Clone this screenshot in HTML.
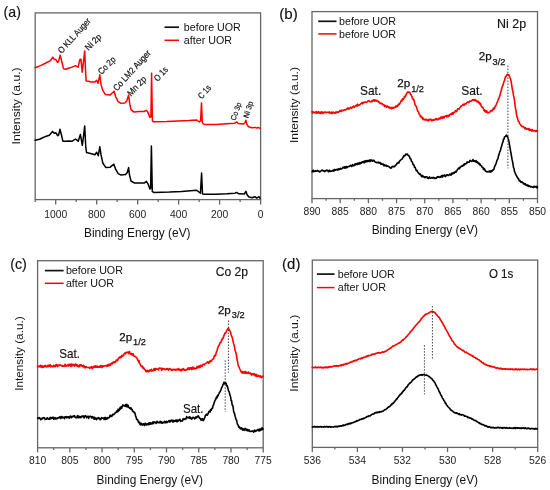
<!DOCTYPE html>
<html><head><meta charset="utf-8"><style>
html,body{margin:0;padding:0;background:#fff;}
svg{display:block;font-family:"Liberation Sans", sans-serif;will-change:transform;filter:blur(0.3px);}
</style></head><body>
<svg width="550" height="490" viewBox="0 0 550 490">
<rect width="550" height="490" fill="#fff"/>
<rect x="35.2" y="12.9" width="225.4" height="186.7" fill="none" stroke="#666" stroke-width="1.3"/>
<line x1="55.69" y1="199.6" x2="55.69" y2="204.6" stroke="#666" stroke-width="1.3"/>
<line x1="96.67" y1="199.6" x2="96.67" y2="204.6" stroke="#666" stroke-width="1.3"/>
<line x1="137.65" y1="199.6" x2="137.65" y2="204.6" stroke="#666" stroke-width="1.3"/>
<line x1="178.64" y1="199.6" x2="178.64" y2="204.6" stroke="#666" stroke-width="1.3"/>
<line x1="219.62" y1="199.6" x2="219.62" y2="204.6" stroke="#666" stroke-width="1.3"/>
<line x1="260.6" y1="199.6" x2="260.6" y2="204.6" stroke="#666" stroke-width="1.3"/>
<line x1="35.2" y1="199.6" x2="35.2" y2="202.1" stroke="#666" stroke-width="1.3"/>
<line x1="76.18" y1="199.6" x2="76.18" y2="202.1" stroke="#666" stroke-width="1.3"/>
<line x1="117.16" y1="199.6" x2="117.16" y2="202.1" stroke="#666" stroke-width="1.3"/>
<line x1="158.15" y1="199.6" x2="158.15" y2="202.1" stroke="#666" stroke-width="1.3"/>
<line x1="199.13" y1="199.6" x2="199.13" y2="202.1" stroke="#666" stroke-width="1.3"/>
<line x1="240.11" y1="199.6" x2="240.11" y2="202.1" stroke="#666" stroke-width="1.3"/>
<text x="55.69" y="217.6" font-size="10.3" text-anchor="middle" fill="#222" >1000</text>
<text x="96.67" y="217.6" font-size="10.3" text-anchor="middle" fill="#222" >800</text>
<text x="137.65" y="217.6" font-size="10.3" text-anchor="middle" fill="#222" >600</text>
<text x="178.64" y="217.6" font-size="10.3" text-anchor="middle" fill="#222" >400</text>
<text x="219.62" y="217.6" font-size="10.3" text-anchor="middle" fill="#222" >200</text>
<text x="260.6" y="217.6" font-size="10.3" text-anchor="middle" fill="#222" >0</text>
<text x="84" y="236.6" font-size="12.5" text-anchor="start" fill="#111" textLength="106.6" lengthAdjust="spacingAndGlyphs" >Binding Energy (eV)</text>
<text x="0" y="0" font-size="11.8" text-anchor="middle" fill="#111" transform="translate(19.5,105.9) rotate(-90)" textLength="77" lengthAdjust="spacingAndGlyphs">Intensity (a.u.)</text>
<text x="3.6" y="16.6" font-size="15" text-anchor="start" fill="#111" textLength="17.3" lengthAdjust="spacingAndGlyphs" stroke="#111" stroke-width="0.15">(a)</text>
<line x1="164.5" y1="27.2" x2="179" y2="27.2" stroke="#111" stroke-width="1.7"/>
<line x1="164.5" y1="40.3" x2="179" y2="40.3" stroke="#f00" stroke-width="1.5"/>
<text x="183.8" y="30.9" font-size="10.2" text-anchor="start" fill="#111" textLength="57" lengthAdjust="spacingAndGlyphs" >before UOR</text>
<text x="183.8" y="44" font-size="10.2" text-anchor="start" fill="#111" textLength="48.2" lengthAdjust="spacingAndGlyphs" >after UOR</text>
<path d="M35.1,67.8 L40.5,65.6 L44.9,63.5 L50.4,60.7 L52.8,57.2 L54.2,59.4 L55.8,59.4 L57.5,62.4 L58.5,61.6 L60.2,55.3 L61.8,61.8 L63.5,68.6 L65.6,69.2 L70,67.8 L72.2,67.1 L75.5,65.6 L78.2,67.1 L79.8,59.6 L80.9,59.1 L82.2,72.2 L83.6,60.7 L84.7,50.9 L85.5,69.5 L86.1,80.9 L88.5,81.2 L90.7,82 L94.9,82.1 L96.7,80.3 L98,83.4 L99.8,74.8 L101,84.6 L102.9,90.7 L105.3,94.4 L110.2,95 L112.7,92.5 L114.1,91.3 L115.7,96.8 L118.2,101.7 L120.6,103.2 L124.9,103 L126.7,101.1 L128.6,95 L129.8,104.2 L131,109.7 L134.1,112.1 L139,111.5 L143.9,111.5 L146.3,110.3 L147.7,111.9 L149.9,117.4 L150.9,116.8 L151.6,73.2 L152.4,120.6 L153.2,121.7 L166.8,121.5 L177.7,120.9 L188.6,120.6 L196.8,120.1 L199.5,122 L200.6,120.6 L201.5,102.9 L202.3,122.3 L203.4,123.9 L205,124.6 L215.9,124.4 L226.8,123.8 L234.5,123.3 L236.6,121.9 L238.3,123.5 L243.2,124.1 L244.8,123 L245.9,120.3 L247,124.6 L248.6,126.8 L251.9,127.7 L255.2,127.4 L256.3,127.9 L258.5,127.4 L260.1,128.5" fill="none" stroke="#f00" stroke-width="1.5" stroke-linejoin="round" stroke-linecap="round" />
<path d="M35.1,140.3 L39.5,139.2 L44.9,136.8 L49.3,135.2 L52.5,131.4 L54.2,133.3 L55.8,132.8 L57.8,135.7 L58.5,135.2 L60,129.2 L61.5,135.2 L62.9,141.2 L65.6,141.2 L68.9,140.9 L72.2,141.2 L75.5,139 L78.2,141.2 L80.4,134.4 L82.3,145.3 L83.6,135.7 L84.7,125.9 L85.8,147.7 L86.6,152.6 L89.6,153.2 L94.9,154.7 L96.7,152.2 L98.3,155.7 L99.8,146.7 L101,154.7 L102.9,163.3 L105.9,167.6 L110.2,167.2 L113.9,164.2 L115.7,169.4 L118.2,173.7 L120.6,174.9 L125.5,174.5 L127.3,172.4 L128.6,167.6 L129.4,174.3 L131,181 L134.7,183.1 L139,182.9 L144.5,182.9 L146.4,181.4 L148.1,184.1 L149.9,189 L150.6,188.4 L151.4,146.1 L152.3,191.4 L153.6,192.4 L169.5,192 L181.7,191.4 L196.4,190.2 L198.9,192 L200.4,193.3 L201.6,173.1 L202.5,193.9 L205,194.3 L215.9,194.2 L226.8,193.8 L235,193.2 L236.6,192.4 L238.8,193.8 L244.3,194 L245.9,191.3 L247,194.5 L248.6,196.7 L251.9,197.8 L255.2,196.7 L256.8,198.1 L259,196.7 L260.1,198.4" fill="none" stroke="#000" stroke-width="1.5" stroke-linejoin="round" stroke-linecap="round" />
<text x="0" y="0" font-size="9" fill="#111" stroke="#111" stroke-width="0.2" transform="translate(61.8,54) rotate(-48)" textLength="44" lengthAdjust="spacingAndGlyphs">O KLL Auger</text>
<text x="0" y="0" font-size="9" fill="#111" stroke="#111" stroke-width="0.2" transform="translate(88.5,51) rotate(-45)" textLength="19.2" lengthAdjust="spacingAndGlyphs">Ni 2p</text>
<text x="0" y="0" font-size="9" fill="#111" stroke="#111" stroke-width="0.2" transform="translate(101.5,75) rotate(-45)" textLength="20.9" lengthAdjust="spacingAndGlyphs">Co 2p</text>
<text x="0" y="0" font-size="9" fill="#111" stroke="#111" stroke-width="0.2" transform="translate(116.9,91.6) rotate(-48)" textLength="51.4" lengthAdjust="spacingAndGlyphs">Co LM2 Auger</text>
<text x="0" y="0" font-size="9" fill="#111" stroke="#111" stroke-width="0.2" transform="translate(130.9,96.8) rotate(-47)" textLength="23.7" lengthAdjust="spacingAndGlyphs">Mn 2p</text>
<text x="0" y="0" font-size="9" fill="#111" stroke="#111" stroke-width="0.2" transform="translate(157.7,81.9) rotate(-48)" textLength="16.1" lengthAdjust="spacingAndGlyphs">O 1s</text>
<text x="0" y="0" font-size="9" fill="#111" stroke="#111" stroke-width="0.2" transform="translate(201.7,99.4) rotate(-48)" textLength="14.9" lengthAdjust="spacingAndGlyphs">C 1s</text>
<text x="0" y="0" font-size="7.7" fill="#111" stroke="#111" stroke-width="0.2" transform="translate(235.3,121.1) rotate(-70)" textLength="18.6" lengthAdjust="spacingAndGlyphs">Co 3p</text>
<text x="0" y="0" font-size="7.7" fill="#111" stroke="#111" stroke-width="0.2" transform="translate(248.2,118.6) rotate(-73)" textLength="17.1" lengthAdjust="spacingAndGlyphs">Ni 3p</text>
<rect x="312" y="11.6" width="225.5" height="187" fill="none" stroke="#666" stroke-width="1.3"/>
<line x1="537.5" y1="198.6" x2="537.5" y2="203.2" stroke="#666" stroke-width="1.3"/>
<line x1="509.31" y1="198.6" x2="509.31" y2="203.2" stroke="#666" stroke-width="1.3"/>
<line x1="481.12" y1="198.6" x2="481.12" y2="203.2" stroke="#666" stroke-width="1.3"/>
<line x1="452.94" y1="198.6" x2="452.94" y2="203.2" stroke="#666" stroke-width="1.3"/>
<line x1="424.75" y1="198.6" x2="424.75" y2="203.2" stroke="#666" stroke-width="1.3"/>
<line x1="396.56" y1="198.6" x2="396.56" y2="203.2" stroke="#666" stroke-width="1.3"/>
<line x1="368.38" y1="198.6" x2="368.38" y2="203.2" stroke="#666" stroke-width="1.3"/>
<line x1="340.19" y1="198.6" x2="340.19" y2="203.2" stroke="#666" stroke-width="1.3"/>
<line x1="312" y1="198.6" x2="312" y2="203.2" stroke="#666" stroke-width="1.3"/>
<line x1="523.41" y1="198.6" x2="523.41" y2="200.8" stroke="#666" stroke-width="1.3"/>
<line x1="495.22" y1="198.6" x2="495.22" y2="200.8" stroke="#666" stroke-width="1.3"/>
<line x1="467.03" y1="198.6" x2="467.03" y2="200.8" stroke="#666" stroke-width="1.3"/>
<line x1="438.84" y1="198.6" x2="438.84" y2="200.8" stroke="#666" stroke-width="1.3"/>
<line x1="410.66" y1="198.6" x2="410.66" y2="200.8" stroke="#666" stroke-width="1.3"/>
<line x1="382.47" y1="198.6" x2="382.47" y2="200.8" stroke="#666" stroke-width="1.3"/>
<line x1="354.28" y1="198.6" x2="354.28" y2="200.8" stroke="#666" stroke-width="1.3"/>
<line x1="326.09" y1="198.6" x2="326.09" y2="200.8" stroke="#666" stroke-width="1.3"/>
<text x="537.5" y="214.8" font-size="10.3" text-anchor="middle" fill="#222" >850</text>
<text x="509.31" y="214.8" font-size="10.3" text-anchor="middle" fill="#222" >855</text>
<text x="481.12" y="214.8" font-size="10.3" text-anchor="middle" fill="#222" >860</text>
<text x="452.94" y="214.8" font-size="10.3" text-anchor="middle" fill="#222" >865</text>
<text x="424.75" y="214.8" font-size="10.3" text-anchor="middle" fill="#222" >870</text>
<text x="396.56" y="214.8" font-size="10.3" text-anchor="middle" fill="#222" >875</text>
<text x="368.38" y="214.8" font-size="10.3" text-anchor="middle" fill="#222" >880</text>
<text x="340.19" y="214.8" font-size="10.3" text-anchor="middle" fill="#222" >885</text>
<text x="312" y="214.8" font-size="10.3" text-anchor="middle" fill="#222" >890</text>
<text x="371.7" y="234.1" font-size="12.5" text-anchor="start" fill="#111" textLength="106.4" lengthAdjust="spacingAndGlyphs" >Binding Energy (eV)</text>
<text x="0" y="0" font-size="11.8" text-anchor="middle" fill="#111" transform="translate(297.5,105.1) rotate(-90)" textLength="76" lengthAdjust="spacingAndGlyphs">Intensity (a.u.)</text>
<text x="279.2" y="18.6" font-size="15" text-anchor="start" fill="#111" textLength="18.5" lengthAdjust="spacingAndGlyphs" stroke="#111" stroke-width="0.15">(b)</text>
<line x1="318.2" y1="21.3" x2="336.5" y2="21.3" stroke="#111" stroke-width="1.7"/>
<line x1="318.2" y1="33.9" x2="336.5" y2="33.9" stroke="#f00" stroke-width="1.5"/>
<text x="339" y="25" font-size="10.2" text-anchor="start" fill="#111" textLength="57" lengthAdjust="spacingAndGlyphs" >before UOR</text>
<text x="339" y="37.6" font-size="10.2" text-anchor="start" fill="#111" textLength="57" lengthAdjust="spacingAndGlyphs" >before UOR</text>
<text x="497.1" y="27.8" font-size="12.2" text-anchor="start" fill="#111" textLength="29" lengthAdjust="spacingAndGlyphs" stroke="#111" stroke-width="0.15">Ni 2p</text>
<text x="360" y="95" font-size="12.2" text-anchor="start" fill="#111" textLength="21.2" lengthAdjust="spacingAndGlyphs" stroke="#111" stroke-width="0.15">Sat.</text>
<text x="461.3" y="95.1" font-size="12.2" text-anchor="start" fill="#111" textLength="21.4" lengthAdjust="spacingAndGlyphs" stroke="#111" stroke-width="0.15">Sat.</text>
<text x="397.3" y="87.3" font-size="11.6" fill="#111" stroke="#111" stroke-width="0.25">2p<tspan font-size="9.2" dx="1" dy="4.5">1/2</tspan></text>
<text x="478.7" y="60.4" font-size="11.6" fill="#111" stroke="#111" stroke-width="0.25">2p<tspan font-size="9.2" dx="1" dy="4.5">3/2</tspan></text>
<path d="M312,111.64 L312.5,112.94 L313,112.81 L313.5,111.92 L314,112.37 L314.5,112.31 L315,112.7 L315.5,112.97 L316,111.75 L316.5,111.65 L317,113.13 L317.5,112.43 L318,113.04 L318.5,111.69 L319,112.51 L319.5,113.03 L320,112.16 L320.5,113.46 L321,113.4 L321.5,111.84 L322,111.84 L322.5,112.77 L323,113.49 L323.5,112.49 L324,112.19 L324.5,112.56 L325,111.85 L325.5,112.2 L326,112.59 L326.5,112.69 L327,112.22 L327.5,112.22 L328,112.19 L328.5,112.63 L329,112.32 L329.5,111.84 L330,113.31 L330.5,112.8 L331,112.96 L331.5,112.13 L332,113.59 L332.5,113.33 L333,111.98 L333.5,112.32 L334,112.97 L334.5,112.88 L335,113.21 L335.5,112.2 L336,112.84 L336.5,112.45 L337,111.68 L337.5,112.08 L338,112.49 L338.5,112.3 L339,111.55 L339.5,111.56 L340,110.43 L340.5,110.66 L341,111.52 L341.5,110.69 L342,110.11 L342.5,110.64 L343,110.78 L343.5,110.58 L344,109.89 L344.5,109.85 L345,109.81 L345.5,110.12 L346,109.49 L346.5,109.08 L347,109.08 L347.5,108.06 L348,107.9 L348.5,108.9 L349,109.22 L349.5,108.32 L350,107.77 L350.5,107.18 L351,107.58 L351.5,108.26 L352,107.69 L352.5,107.08 L353,107.47 L353.5,106.15 L354,106.48 L354.5,107.08 L355,106.21 L355.5,105.79 L356,105.25 L356.5,105.55 L357,106.08 L357.5,104.16 L358,105.36 L358.5,105.22 L359,105.13 L359.5,104.67 L360,104.59 L360.5,103.88 L361,103.76 L361.5,103.33 L362,102.49 L362.5,103.78 L363,103.07 L363.5,102.25 L364,102.65 L364.5,102.47 L365,102.11 L365.5,101.96 L366,102.18 L366.5,102.2 L367,102.06 L367.5,101.67 L368,100.78 L368.5,101.04 L369,100.84 L369.5,101.47 L370,101.88 L370.5,101.68 L371,101.6 L371.5,101.56 L372,100.49 L372.5,101.48 L373,101.13 L373.5,100.03 L374,99.87 L374.5,99.85 L375,101.17 L375.5,100.25 L376,100.05 L376.5,101.13 L377,100.85 L377.5,100.64 L378,101.13 L378.5,102.13 L379,101.82 L379.5,102.32 L380,103.39 L380.5,103.21 L381,103.26 L381.5,103.84 L382,103.34 L382.5,104.3 L383,104.67 L383.5,104.56 L384,104.71 L384.5,106.42 L385,105.98 L385.5,105.69 L386,106.63 L386.5,107.21 L387,105.96 L387.5,106.12 L388,106.51 L388.5,107.68 L389,106.8 L389.5,107.9 L390,107.95 L390.5,107.79 L391,107.28 L391.5,108.69 L392,108.41 L392.5,107.92 L393,107.4 L393.5,108.12 L394,107.54 L394.5,107.69 L395,106.99 L395.5,107.27 L396,105.91 L396.5,105.98 L397,106.79 L397.5,106.2 L398,104.72 L398.5,105.2 L399,103.67 L399.5,104.23 L400,103.28 L400.5,102.07 L401,101.14 L401.5,100.06 L402,100.97 L402.5,98.81 L403,99.58 L403.5,99.2 L404,97.87 L404.5,96.43 L405,96.88 L405.5,96.24 L406,94.92 L406.5,93.8 L407,92.9 L407.5,92.33 L408,91.76 L408.5,92.52 L409,92.26 L409.5,92.23 L410,92.65 L410.5,94.4 L411,94.58 L411.5,95.88 L412,96.53 L412.5,98.48 L413,99.52 L413.5,99.05 L414,100.59 L414.5,102.08 L415,104.57 L415.5,105.5 L416,105.98 L416.5,106.97 L417,108.93 L417.5,110.34 L418,111.63 L418.5,111.68 L419,113.73 L419.5,114.41 L420,115.01 L420.5,116.79 L421,116.22 L421.5,117.75 L422,117.14 L422.5,117.72 L423,119.41 L423.5,118.42 L424,119.62 L424.5,119.5 L425,120.07 L425.5,119.34 L426,119.4 L426.5,119.4 L427,120.5 L427.5,120.08 L428,120.75 L428.5,120.66 L429,119.33 L429.5,120.08 L430,119.29 L430.5,119.17 L431,119.23 L431.5,120.65 L432,120.49 L432.5,120.52 L433,119.6 L433.5,120.03 L434,120.26 L434.5,119.46 L435,119.71 L435.5,118.99 L436,118.63 L436.5,118.85 L437,119.86 L437.5,119.14 L438,119.66 L438.5,118.69 L439,118.22 L439.5,119 L440,118.92 L440.5,117.31 L441,118.35 L441.5,117.15 L442,117.05 L442.5,118.28 L443,116.61 L443.5,116.82 L444,118.02 L444.5,116.84 L445,116.14 L445.5,116.07 L446,116.04 L446.5,116.77 L447,115.44 L447.5,116.71 L448,115.56 L448.5,116.43 L449,116.11 L449.5,114.79 L450,114.49 L450.5,114.65 L451,113.72 L451.5,114.45 L452,113.08 L452.5,112.74 L453,114.18 L453.5,112.62 L454,112.8 L454.5,112.16 L455,111.52 L455.5,110.66 L456,111.77 L456.5,111.43 L457,110.99 L457.5,108.99 L458,108.72 L458.5,108.99 L459,109.19 L459.5,107.96 L460,107.78 L460.5,107.3 L461,106.15 L461.5,106.26 L462,105.45 L462.5,104.97 L463,104.33 L463.5,104.37 L464,105.33 L464.5,104.07 L465,104.14 L465.5,103.83 L466,104.08 L466.5,102.81 L467,102.39 L467.5,102.16 L468,101.89 L468.5,102.61 L469,102.46 L469.5,101.18 L470,101.04 L470.5,101.23 L471,101.13 L471.5,101.01 L472,100.25 L472.5,99.74 L473,100.05 L473.5,99.68 L474,100.51 L474.5,99.63 L475,99.67 L475.5,100.77 L476,100.3 L476.5,101.41 L477,101.13 L477.5,102.1 L478,101.17 L478.5,102.19 L479,103.16 L479.5,102.33 L480,104.41 L480.5,103.61 L481,105.41 L481.5,106.59 L482,107.15 L482.5,107.11 L483,107.57 L483.5,109.08 L484,110.5 L484.5,109.93 L485,111.47 L485.5,110.5 L486,112.2 L486.5,110.84 L487,111.5 L487.5,112.62 L488,112.45 L488.5,112.62 L489,112.47 L489.5,112.24 L490,112.03 L490.5,110.95 L491,111.18 L491.5,110.38 L492,110.99 L492.5,110.43 L493,109.14 L493.5,108.19 L494,109.13 L494.5,108.12 L495,106.86 L495.5,105.99 L496,105.63 L496.5,103.93 L497,102.8 L497.5,101.6 L498,100.31 L498.5,98.69 L499,98.51 L499.5,96.64 L500,95.32 L500.5,92.71 L501,91.48 L501.5,89.3 L502,87.49 L502.5,85.99 L503,85.35 L503.5,83.02 L504,81.62 L504.5,80.63 L505,78.55 L505.5,76.78 L506,76.47 L506.5,75.39 L507,74.9 L507.5,74.13 L508,74.6 L508.5,75.04 L509,74.83 L509.5,76.3 L510,77.58 L510.5,78.74 L511,81.07 L511.5,83.75 L512,87.11 L512.5,90.07 L513,91.94 L513.5,95.62 L514,97.46 L514.5,100.63 L515,104.71 L515.5,108.66 L516,110.51 L516.5,114.43 L517,116.99 L517.5,117.81 L518,120.04 L518.5,121.62 L519,121.83 L519.5,123.32 L520,124.12 L520.5,124.49 L521,125.51 L521.5,126.09 L522,126.7 L522.5,126.52 L523,126.33 L523.5,126.91 L524,127.22 L524.5,128.16 L525,128.75 L525.5,127.68 L526,128.97 L526.5,129.17 L527,128.62 L527.5,129.03 L528,128.51 L528.5,129.65 L529,128.54 L529.5,130.39 L530,130.21 L530.5,130.01 L531,129.47 L531.5,130.74 L532,130.91 L532.5,129.52 L533,130.74 L533.5,130.93 L534,130.68 L534.5,130.82 L535,130.42 L535.5,131.36 L536,131.51 L536.5,130.52 L537,131.36 L537.5,130.78" fill="none" stroke="#f00" stroke-width="1.6" stroke-linejoin="round" stroke-linecap="round" />
<path d="M312,171.82 L312.5,171.81 L313,170.2 L313.5,170.25 L314,171.6 L314.5,171.42 L315,171.31 L315.5,170.65 L316,171.19 L316.5,171.19 L317,171.15 L317.5,170.39 L318,170.88 L318.5,170.81 L319,171.4 L319.5,171.89 L320,171.81 L320.5,171.08 L321,170.9 L321.5,170.58 L322,170.16 L322.5,170.15 L323,170.94 L323.5,170.67 L324,170.78 L324.5,171.7 L325,171.03 L325.5,171.09 L326,170.49 L326.5,170.09 L327,170.62 L327.5,170.25 L328,170.9 L328.5,171.75 L329,171.13 L329.5,170.2 L330,171.43 L330.5,171.2 L331,171.03 L331.5,171.28 L332,170.94 L332.5,170.91 L333,170.04 L333.5,171.07 L334,170.94 L334.5,169.39 L335,170.34 L335.5,170.16 L336,169.58 L336.5,169.58 L337,169.38 L337.5,170.04 L338,169.14 L338.5,169.6 L339,168.61 L339.5,169.43 L340,169.32 L340.5,168.4 L341,168.46 L341.5,168.96 L342,168.48 L342.5,167.93 L343,167.32 L343.5,167.39 L344,167.94 L344.5,166.85 L345,168.06 L345.5,166.79 L346,167.82 L346.5,166.61 L347,167.65 L347.5,167.07 L348,166.58 L348.5,166.48 L349,166.59 L349.5,166.35 L350,165.72 L350.5,165.41 L351,165.82 L351.5,166.45 L352,165.76 L352.5,164.64 L353,165.84 L353.5,165.53 L354,165.72 L354.5,164.29 L355,165.14 L355.5,163.75 L356,164.67 L356.5,163.83 L357,163.59 L357.5,164.6 L358,163.06 L358.5,163.66 L359,164.1 L359.5,162.85 L360,162.64 L360.5,163.7 L361,162.73 L361.5,163.13 L362,161.76 L362.5,162.23 L363,161.75 L363.5,162.52 L364,161.32 L364.5,162.75 L365,160.94 L365.5,162.07 L366,160.66 L366.5,160.95 L367,161.83 L367.5,160.53 L368,160.47 L368.5,161.29 L369,160.66 L369.5,159.98 L370,161.63 L370.5,160.09 L371,159.87 L371.5,160.43 L372,160.95 L372.5,161.25 L373,160.2 L373.5,160.71 L374,160.29 L374.5,161.18 L375,161.9 L375.5,162.02 L376,162.48 L376.5,162.38 L377,162.75 L377.5,162.64 L378,162.39 L378.5,162.13 L379,163.11 L379.5,162.69 L380,162.52 L380.5,163.36 L381,164.35 L381.5,163.23 L382,164.28 L382.5,164.17 L383,164.61 L383.5,164.16 L384,165.84 L384.5,164.8 L385,165.66 L385.5,165.59 L386,165.14 L386.5,166.38 L387,165.88 L387.5,165.97 L388,166.13 L388.5,166.53 L389,166.52 L389.5,167.54 L390,167.31 L390.5,168.13 L391,167.99 L391.5,168.01 L392,166.53 L392.5,166.78 L393,166.27 L393.5,166.69 L394,166.52 L394.5,166.59 L395,166.14 L395.5,165 L396,164.95 L396.5,164.75 L397,163.39 L397.5,163 L398,163.21 L398.5,162.18 L399,162.78 L399.5,161.39 L400,160.61 L400.5,160.22 L401,159.77 L401.5,159.2 L402,159.15 L402.5,158.33 L403,157.26 L403.5,157.04 L404,155.48 L404.5,156.02 L405,155.55 L405.5,154.75 L406,154.08 L406.5,154.3 L407,154.65 L407.5,154.04 L408,155.16 L408.5,155.9 L409,155.91 L409.5,156.44 L410,158.44 L410.5,158.41 L411,159.55 L411.5,161.24 L412,161.74 L412.5,162.27 L413,164.65 L413.5,164.66 L414,165.09 L414.5,167.27 L415,167.11 L415.5,168.34 L416,170.14 L416.5,170.64 L417,170.23 L417.5,171.74 L418,172.34 L418.5,173.1 L419,173.17 L419.5,174.36 L420,173.89 L420.5,174.69 L421,175.22 L421.5,176.57 L422,175.32 L422.5,176.8 L423,176.01 L423.5,176.89 L424,176.74 L424.5,177.01 L425,177.65 L425.5,177.11 L426,176.71 L426.5,176.79 L427,176.79 L427.5,178.23 L428,177.9 L428.5,178.52 L429,178.07 L429.5,176.89 L430,178.05 L430.5,178.28 L431,178.19 L431.5,177.79 L432,177.54 L432.5,177.72 L433,178.34 L433.5,177.38 L434,177.82 L434.5,177.7 L435,178.5 L435.5,178.17 L436,178.33 L436.5,178.07 L437,177.01 L437.5,176.79 L438,177.15 L438.5,176.62 L439,176.81 L439.5,177.15 L440,177.46 L440.5,176.75 L441,177.05 L441.5,175.64 L442,176 L442.5,177.05 L443,175.43 L443.5,175.83 L444,175.11 L444.5,175.06 L445,176.44 L445.5,176.53 L446,175.83 L446.5,174.81 L447,175.01 L447.5,174.8 L448,175.48 L448.5,175.38 L449,174.82 L449.5,174.83 L450,173.94 L450.5,174.54 L451,175.09 L451.5,174.54 L452,173.12 L452.5,173.63 L453,173.72 L453.5,172.6 L454,173.41 L454.5,172.28 L455,172.33 L455.5,171.39 L456,172.04 L456.5,171.22 L457,170.4 L457.5,169.18 L458,169.25 L458.5,168.05 L459,168.61 L459.5,168.66 L460,166.95 L460.5,167.1 L461,166.62 L461.5,166.06 L462,166.21 L462.5,166.24 L463,165.46 L463.5,164.71 L464,165.28 L464.5,163.83 L465,164.27 L465.5,163.8 L466,163.68 L466.5,163.54 L467,162.12 L467.5,162.55 L468,161.89 L468.5,162.11 L469,162.42 L469.5,161.58 L470,160.26 L470.5,160.89 L471,161.17 L471.5,161.35 L472,160.82 L472.5,161.04 L473,159.55 L473.5,161.2 L474,160.86 L474.5,160.76 L475,161.48 L475.5,161.7 L476,160.59 L476.5,162.22 L477,162.51 L477.5,161.89 L478,163.29 L478.5,163.42 L479,163.13 L479.5,164.68 L480,163.99 L480.5,165.38 L481,165.63 L481.5,165.89 L482,167.06 L482.5,167.48 L483,167.6 L483.5,169.54 L484,168.47 L484.5,168.85 L485,170.18 L485.5,171.21 L486,171.23 L486.5,171.71 L487,171.47 L487.5,172.01 L488,171.53 L488.5,171.47 L489,171.9 L489.5,171 L490,171.01 L490.5,172.08 L491,170.83 L491.5,171.59 L492,171.29 L492.5,170.15 L493,170.09 L493.5,169.64 L494,169 L494.5,166.78 L495,165.76 L495.5,164.95 L496,163.76 L496.5,162.03 L497,160.01 L497.5,159.44 L498,158.58 L498.5,155.9 L499,154.62 L499.5,152.79 L500,151.34 L500.5,150.44 L501,147.7 L501.5,146.54 L502,144.5 L502.5,142.9 L503,141.98 L503.5,139.01 L504,139.08 L504.5,137.03 L505,136.68 L505.5,136.24 L506,135.61 L506.5,135.2 L507,136.53 L507.5,136.14 L508,138.45 L508.5,139.67 L509,141.85 L509.5,144.84 L510,147.69 L510.5,150.61 L511,153.26 L511.5,156.08 L512,159.14 L512.5,161.36 L513,164 L513.5,167.66 L514,168.37 L514.5,171.62 L515,172.49 L515.5,173.86 L516,174.97 L516.5,175.56 L517,177.11 L517.5,177.33 L518,178.48 L518.5,178.78 L519,180.38 L519.5,180.93 L520,180.57 L520.5,181.46 L521,182.49 L521.5,181.85 L522,181.84 L522.5,182.45 L523,182.68 L523.5,183.85 L524,183.56 L524.5,183.76 L525,184.77 L525.5,183.96 L526,185.2 L526.5,185.08 L527,184.86 L527.5,185.81 L528,185.12 L528.5,186.24 L529,186.47 L529.5,185.83 L530,186.29 L530.5,186.86 L531,186.59 L531.5,186.7 L532,186.99 L532.5,187.19 L533,186.94 L533.5,187.42 L534,186.25 L534.5,186.92 L535,187.08 L535.5,186.61 L536,186.74 L536.5,186.42 L537,187.92 L537.5,186.94" fill="none" stroke="#000" stroke-width="1.6" stroke-linejoin="round" stroke-linecap="round" />
<line x1="507.9" y1="65.5" x2="507.9" y2="168.4" stroke="#444" stroke-width="1" stroke-dasharray="1.5,1.5"/>
<rect x="37.6" y="260.7" width="225.6" height="187.1" fill="none" stroke="#666" stroke-width="1.3"/>
<line x1="263.2" y1="447.8" x2="263.2" y2="452.4" stroke="#666" stroke-width="1.3"/>
<line x1="230.97" y1="447.8" x2="230.97" y2="452.4" stroke="#666" stroke-width="1.3"/>
<line x1="198.74" y1="447.8" x2="198.74" y2="452.4" stroke="#666" stroke-width="1.3"/>
<line x1="166.51" y1="447.8" x2="166.51" y2="452.4" stroke="#666" stroke-width="1.3"/>
<line x1="134.29" y1="447.8" x2="134.29" y2="452.4" stroke="#666" stroke-width="1.3"/>
<line x1="102.06" y1="447.8" x2="102.06" y2="452.4" stroke="#666" stroke-width="1.3"/>
<line x1="69.83" y1="447.8" x2="69.83" y2="452.4" stroke="#666" stroke-width="1.3"/>
<line x1="37.6" y1="447.8" x2="37.6" y2="452.4" stroke="#666" stroke-width="1.3"/>
<line x1="247.09" y1="447.8" x2="247.09" y2="450" stroke="#666" stroke-width="1.3"/>
<line x1="214.86" y1="447.8" x2="214.86" y2="450" stroke="#666" stroke-width="1.3"/>
<line x1="182.63" y1="447.8" x2="182.63" y2="450" stroke="#666" stroke-width="1.3"/>
<line x1="150.4" y1="447.8" x2="150.4" y2="450" stroke="#666" stroke-width="1.3"/>
<line x1="118.17" y1="447.8" x2="118.17" y2="450" stroke="#666" stroke-width="1.3"/>
<line x1="85.94" y1="447.8" x2="85.94" y2="450" stroke="#666" stroke-width="1.3"/>
<line x1="53.71" y1="447.8" x2="53.71" y2="450" stroke="#666" stroke-width="1.3"/>
<text x="263.2" y="464.2" font-size="10.3" text-anchor="middle" fill="#222" >775</text>
<text x="230.97" y="464.2" font-size="10.3" text-anchor="middle" fill="#222" >780</text>
<text x="198.74" y="464.2" font-size="10.3" text-anchor="middle" fill="#222" >785</text>
<text x="166.51" y="464.2" font-size="10.3" text-anchor="middle" fill="#222" >790</text>
<text x="134.29" y="464.2" font-size="10.3" text-anchor="middle" fill="#222" >795</text>
<text x="102.06" y="464.2" font-size="10.3" text-anchor="middle" fill="#222" >800</text>
<text x="69.83" y="464.2" font-size="10.3" text-anchor="middle" fill="#222" >805</text>
<text x="37.6" y="464.2" font-size="10.3" text-anchor="middle" fill="#222" >810</text>
<text x="96.6" y="483.7" font-size="12.5" text-anchor="start" fill="#111" textLength="106.4" lengthAdjust="spacingAndGlyphs" >Binding Energy (eV)</text>
<text x="0" y="0" font-size="11.8" text-anchor="middle" fill="#111" transform="translate(22.9,353.6) rotate(-90)" textLength="74.5" lengthAdjust="spacingAndGlyphs">Intensity (a.u.)</text>
<text x="10.2" y="269.4" font-size="15" text-anchor="start" fill="#111" textLength="16.7" lengthAdjust="spacingAndGlyphs" stroke="#111" stroke-width="0.15">(c)</text>
<line x1="44.9" y1="270.6" x2="63.6" y2="270.6" stroke="#111" stroke-width="1.7"/>
<line x1="44.9" y1="283.3" x2="63.6" y2="283.3" stroke="#f00" stroke-width="1.5"/>
<text x="65.9" y="274.3" font-size="10.2" text-anchor="start" fill="#111" textLength="57" lengthAdjust="spacingAndGlyphs" >before UOR</text>
<text x="65.9" y="287" font-size="10.2" text-anchor="start" fill="#111" textLength="48.2" lengthAdjust="spacingAndGlyphs" >after UOR</text>
<text x="215.7" y="276.2" font-size="12.2" text-anchor="start" fill="#111" textLength="32.3" lengthAdjust="spacingAndGlyphs" stroke="#111" stroke-width="0.15">Co 2p</text>
<text x="59.2" y="357.9" font-size="12.2" text-anchor="start" fill="#111" textLength="20.8" lengthAdjust="spacingAndGlyphs" stroke="#111" stroke-width="0.15">Sat.</text>
<text x="183" y="412.6" font-size="12.2" text-anchor="start" fill="#111" textLength="20.5" lengthAdjust="spacingAndGlyphs" stroke="#111" stroke-width="0.15">Sat.</text>
<text x="119.2" y="340.6" font-size="11.6" fill="#111" stroke="#111" stroke-width="0.25">2p<tspan font-size="9.2" dx="1" dy="4.5">1/2</tspan></text>
<text x="217.9" y="313.5" font-size="11.6" fill="#111" stroke="#111" stroke-width="0.25">2p<tspan font-size="9.2" dx="1" dy="4.5">3/2</tspan></text>
<path d="M37.6,365.97 L38.1,366.68 L38.6,366.23 L39.1,366.76 L39.6,366.79 L40.1,365.41 L40.6,365.26 L41.1,367.21 L41.6,365.79 L42.1,365.71 L42.6,367.5 L43.1,366.21 L43.6,367.06 L44.1,366.17 L44.6,366.53 L45.1,365.33 L45.6,366.47 L46.1,367 L46.6,366.14 L47.1,366.64 L47.6,366.44 L48.1,364.95 L48.6,366.59 L49.1,366.16 L49.6,365.43 L50.1,364.76 L50.6,366.73 L51.1,365.76 L51.6,366.32 L52.1,366.67 L52.6,366.24 L53.1,366.71 L53.6,365.42 L54.1,366.36 L54.6,365.48 L55.1,366.63 L55.6,366.47 L56.1,364.57 L56.6,364.64 L57.1,364.81 L57.6,366.58 L58.1,365.28 L58.6,365.72 L59.1,364.91 L59.6,365.38 L60.1,365.06 L60.6,364.95 L61.1,365.49 L61.6,365.47 L62.1,366.21 L62.6,365.66 L63.1,366.23 L63.6,366.04 L64.1,366.34 L64.6,365.56 L65.1,364.33 L65.6,365.99 L66.1,366.23 L66.6,366.08 L67.1,365.27 L67.6,365.61 L68.1,364.41 L68.6,365.9 L69.1,365.28 L69.6,364.59 L70.1,364.06 L70.6,365.96 L71.1,366.29 L71.6,364.14 L72.1,365.86 L72.6,364.93 L73.1,364.32 L73.6,364.68 L74.1,365.84 L74.6,366.11 L75.1,364.15 L75.6,365.54 L76.1,364.2 L76.6,365.85 L77.1,364.96 L77.6,366.32 L78.1,366.61 L78.6,365.51 L79.1,366.75 L79.6,365.17 L80.1,364.69 L80.6,366.03 L81.1,364.77 L81.6,365.27 L82.1,365.88 L82.6,366.48 L83.1,365.5 L83.6,365.34 L84.1,367.43 L84.6,366.21 L85.1,367.86 L85.6,367.82 L86.1,366.66 L86.6,366.95 L87.1,367.17 L87.6,367.53 L88.1,367.46 L88.6,367.41 L89.1,367.58 L89.6,368.36 L90.1,367.31 L90.6,367.13 L91.1,367.81 L91.6,366.64 L92.1,366.78 L92.6,368.39 L93.1,367.27 L93.6,367.31 L94.1,365.99 L94.6,366.93 L95.1,367.3 L95.6,365.92 L96.1,367.31 L96.6,367.31 L97.1,365.9 L97.6,367.21 L98.1,366.78 L98.6,367.24 L99.1,366.4 L99.6,367.2 L100.1,367.22 L100.6,365.44 L101.1,365.48 L101.6,366.9 L102.1,367.55 L102.6,365.79 L103.1,366.23 L103.6,366.51 L104.1,365.8 L104.6,365.85 L105.1,365.66 L105.6,365.72 L106.1,366.18 L106.6,365.37 L107.1,365.45 L107.6,366.27 L108.1,364.34 L108.6,365.48 L109.1,365.7 L109.6,364.48 L110.1,364.05 L110.6,365.2 L111.1,363.58 L111.6,363.18 L112.1,363.48 L112.6,363.8 L113.1,362.05 L113.6,362.24 L114.1,361.93 L114.6,362.78 L115.1,361.48 L115.6,362.12 L116.1,360.11 L116.6,360.12 L117.1,360.47 L117.6,360.61 L118.1,359.13 L118.6,358.14 L119.1,357.45 L119.6,357.98 L120.1,356.73 L120.6,357.78 L121.1,357.44 L121.6,355.46 L122.1,355.31 L122.6,356.22 L123.1,355.44 L123.6,355.43 L124.1,353.93 L124.6,353.02 L125.1,353.05 L125.6,353.92 L126.1,352.39 L126.6,352.35 L127.1,352.37 L127.6,352.31 L128.1,352.29 L128.6,353.56 L129.1,351.8 L129.6,351.55 L130.1,353.94 L130.6,353.97 L131.1,354.44 L131.6,353.37 L132.1,354.9 L132.6,355.17 L133.1,353.85 L133.6,355.53 L134.1,356.23 L134.6,356.35 L135.1,356.58 L135.6,356.64 L136.1,357.41 L136.6,357.8 L137.1,358.1 L137.6,360.04 L138.1,360.01 L138.6,361.94 L139.1,360.82 L139.6,363.63 L140.1,363.92 L140.6,365.28 L141.1,366.01 L141.6,366.79 L142.1,366.74 L142.6,366.06 L143.1,368.4 L143.6,367.58 L144.1,368.42 L144.6,369.8 L145.1,369.94 L145.6,370.07 L146.1,371.66 L146.6,371.11 L147.1,370.6 L147.6,370.4 L148.1,371.83 L148.6,370.84 L149.1,371.47 L149.6,370.32 L150.1,369.82 L150.6,370.5 L151.1,371.04 L151.6,369.36 L152.1,370.73 L152.6,370.94 L153.1,370.59 L153.6,370.56 L154.1,368.53 L154.6,369.96 L155.1,370.45 L155.6,368.44 L156.1,368.92 L156.6,368.86 L157.1,369.43 L157.6,369.14 L158.1,369.22 L158.6,369.92 L159.1,368.03 L159.6,368.14 L160.1,368.31 L160.6,368.3 L161.1,368.17 L161.6,370.35 L162.1,370.08 L162.6,368.25 L163.1,369.27 L163.6,368.84 L164.1,368.87 L164.6,368.98 L165.1,369.72 L165.6,369.6 L166.1,369.09 L166.6,368.71 L167.1,369.07 L167.6,368.6 L168.1,369.66 L168.6,370.07 L169.1,369.28 L169.6,368.57 L170.1,368.82 L170.6,369.29 L171.1,369.85 L171.6,370.28 L172.1,369.31 L172.6,370.32 L173.1,369.9 L173.6,369.44 L174.1,369.29 L174.6,369.59 L175.1,370.09 L175.6,369.41 L176.1,370.07 L176.6,369.51 L177.1,368.99 L177.6,369.69 L178.1,370.07 L178.6,368.57 L179.1,369.42 L179.6,369.42 L180.1,370.51 L180.6,370.65 L181.1,369.3 L181.6,370.55 L182.1,370.29 L182.6,369.01 L183.1,369.48 L183.6,368.63 L184.1,370.26 L184.6,369.86 L185.1,370.36 L185.6,370.09 L186.1,369.74 L186.6,369.84 L187.1,369.38 L187.6,368.21 L188.1,369.3 L188.6,367.83 L189.1,368.09 L189.6,369.53 L190.1,367.7 L190.6,367.73 L191.1,367.66 L191.6,369.45 L192.1,367.68 L192.6,367.21 L193.1,369.08 L193.6,367.26 L194.1,368.9 L194.6,368.38 L195.1,368.67 L195.6,368.84 L196.1,367.82 L196.6,368.23 L197.1,366.27 L197.6,367.89 L198.1,367.13 L198.6,367.47 L199.1,365.84 L199.6,367.22 L200.1,367.48 L200.6,365.19 L201.1,365.62 L201.6,365.97 L202.1,366.37 L202.6,364.72 L203.1,364.31 L203.6,364.22 L204.1,364.83 L204.6,364.89 L205.1,363.76 L205.6,363.42 L206.1,363.22 L206.6,362.83 L207.1,362.75 L207.6,361.71 L208.1,362.48 L208.6,363.39 L209.1,361.8 L209.6,362.34 L210.1,360.64 L210.6,361.58 L211.1,361.35 L211.6,360.71 L212.1,359.84 L212.6,359.22 L213.1,359.01 L213.6,358.95 L214.1,356.39 L214.6,355.41 L215.1,355.99 L215.6,355.27 L216.1,353.07 L216.6,351.58 L217.1,350.9 L217.6,348.26 L218.1,347.13 L218.6,345.71 L219.1,345.48 L219.6,343.74 L220.1,342.5 L220.6,342.58 L221.1,342.22 L221.6,339.68 L222.1,339.72 L222.6,338.09 L223.1,338.23 L223.6,336.69 L224.1,335.06 L224.6,334.11 L225.1,332.83 L225.6,333.11 L226.1,332 L226.6,330.48 L227.1,329.92 L227.6,328.99 L228.1,329.55 L228.6,327.98 L229.1,330.43 L229.6,330.01 L230.1,331.39 L230.6,332.39 L231.1,334.71 L231.6,336.17 L232.1,337.17 L232.6,338.8 L233.1,341.34 L233.6,343.73 L234.1,344.77 L234.6,347.73 L235.1,350.51 L235.6,351.73 L236.1,353.66 L236.6,356.17 L237.1,359.75 L237.6,361.89 L238.1,364.63 L238.6,366.46 L239.1,366.95 L239.6,368.45 L240.1,369.75 L240.6,370.15 L241.1,371.81 L241.6,372.52 L242.1,372.88 L242.6,371.53 L243.1,373.14 L243.6,371.92 L244.1,372.26 L244.6,373.05 L245.1,371.56 L245.6,371.63 L246.1,373.48 L246.6,372.27 L247.1,372.53 L247.6,373.17 L248.1,373.52 L248.6,372.03 L249.1,372.94 L249.6,373.32 L250.1,373.57 L250.6,373.05 L251.1,374.09 L251.6,375.11 L252.1,373.9 L252.6,374.41 L253.1,373.52 L253.6,374.03 L254.1,375.1 L254.6,373.89 L255.1,375.88 L255.6,376.05 L256.1,374.22 L256.6,376.37 L257.1,375.13 L257.6,376.21 L258.1,376.29 L258.6,375.31 L259.1,376.34 L259.6,376.41 L260.1,376.89 L260.6,375.71 L261.1,377.01 L261.6,377.62 L262.1,377.05 L262.6,376.84 L263.1,375.95" fill="none" stroke="#f00" stroke-width="1.6" stroke-linejoin="round" stroke-linecap="round" />
<path d="M37.6,418.17 L38.1,417.83 L38.6,418.51 L39.1,417.92 L39.6,417.69 L40.1,418.47 L40.6,419.69 L41.1,419.4 L41.6,419.29 L42.1,417.97 L42.6,418.71 L43.1,418.07 L43.6,417.8 L44.1,417.62 L44.6,417.86 L45.1,419.56 L45.6,419.3 L46.1,419.22 L46.6,419.19 L47.1,417.71 L47.6,417.97 L48.1,418.7 L48.6,418.93 L49.1,419.2 L49.6,419.24 L50.1,417.3 L50.6,418.52 L51.1,418.65 L51.6,418.22 L52.1,417.41 L52.6,418.09 L53.1,417.13 L53.6,419.13 L54.1,418.94 L54.6,418.14 L55.1,417.52 L55.6,418.95 L56.1,418.11 L56.6,418.83 L57.1,418.72 L57.6,417.88 L58.1,417.62 L58.6,418.04 L59.1,417.61 L59.6,416.93 L60.1,417.25 L60.6,418.44 L61.1,416.57 L61.6,416.55 L62.1,417.92 L62.6,417.06 L63.1,417.64 L63.6,417.46 L64.1,417.13 L64.6,418.67 L65.1,416.72 L65.6,417.21 L66.1,416.68 L66.6,417.68 L67.1,416.8 L67.6,416.96 L68.1,417.87 L68.6,416.81 L69.1,417.35 L69.6,418.14 L70.1,416.17 L70.6,416.03 L71.1,416.39 L71.6,417.64 L72.1,417.23 L72.6,416.28 L73.1,416.47 L73.6,416.06 L74.1,416.7 L74.6,415.66 L75.1,417.2 L75.6,417.64 L76.1,417.76 L76.6,417.21 L77.1,417.73 L77.6,415.46 L78.1,416.1 L78.6,417.72 L79.1,417.26 L79.6,416.39 L80.1,417.68 L80.6,416.92 L81.1,417.41 L81.6,416.17 L82.1,415.95 L82.6,416.59 L83.1,415.88 L83.6,416.5 L84.1,417.93 L84.6,416.45 L85.1,415.72 L85.6,415.84 L86.1,416.18 L86.6,417.7 L87.1,416.74 L87.6,416.61 L88.1,416.19 L88.6,418.37 L89.1,417.08 L89.6,416.61 L90.1,416.31 L90.6,416.36 L91.1,416.71 L91.6,418.01 L92.1,416.82 L92.6,416.65 L93.1,417.82 L93.6,417.33 L94.1,419.22 L94.6,417.21 L95.1,418.28 L95.6,418.95 L96.1,418.16 L96.6,419.63 L97.1,418.48 L97.6,417.98 L98.1,418.44 L98.6,417.6 L99.1,418.56 L99.6,418.17 L100.1,419.73 L100.6,419.59 L101.1,418.79 L101.6,417.66 L102.1,418.18 L102.6,418.13 L103.1,418.01 L103.6,418.02 L104.1,419.49 L104.6,417.67 L105.1,417.36 L105.6,419.35 L106.1,418.35 L106.6,419.22 L107.1,417.63 L107.6,418.63 L108.1,417.81 L108.6,417.9 L109.1,417.53 L109.6,416.65 L110.1,415.39 L110.6,415.36 L111.1,416.63 L111.6,416.36 L112.1,416.08 L112.6,414.32 L113.1,414.73 L113.6,414.72 L114.1,413.97 L114.6,413.99 L115.1,412.9 L115.6,412.78 L116.1,412.42 L116.6,410.97 L117.1,412.1 L117.6,411.73 L118.1,409.17 L118.6,410.88 L119.1,410.43 L119.6,409.31 L120.1,407.41 L120.6,409.03 L121.1,406.72 L121.6,408.25 L122.1,407.05 L122.6,405.15 L123.1,405.03 L123.6,405.86 L124.1,405.51 L124.6,405.89 L125.1,406.35 L125.6,404.72 L126.1,404.3 L126.6,406.65 L127.1,404.64 L127.6,406.93 L128.1,405.35 L128.6,407.31 L129.1,407.57 L129.6,408.17 L130.1,407.79 L130.6,409.01 L131.1,407.87 L131.6,409.52 L132.1,409.27 L132.6,411.24 L133.1,411.64 L133.6,411.67 L134.1,412.62 L134.6,412.34 L135.1,413.48 L135.6,416.08 L136.1,417.12 L136.6,419.29 L137.1,419.82 L137.6,419.63 L138.1,420.95 L138.6,422.64 L139.1,422.7 L139.6,422.04 L140.1,424.5 L140.6,424.85 L141.1,423.34 L141.6,424.58 L142.1,424.21 L142.6,425.18 L143.1,424.01 L143.6,423.8 L144.1,424.36 L144.6,425.46 L145.1,423.32 L145.6,423.3 L146.1,424.45 L146.6,425.01 L147.1,424.05 L147.6,423.78 L148.1,424.72 L148.6,424.45 L149.1,422.66 L149.6,424.51 L150.1,422.76 L150.6,422.9 L151.1,424.07 L151.6,422.96 L152.1,423.74 L152.6,422.12 L153.1,423.72 L153.6,421.97 L154.1,421.83 L154.6,422.61 L155.1,422.19 L155.6,422.64 L156.1,423.48 L156.6,422.99 L157.1,421.28 L157.6,421.99 L158.1,422.54 L158.6,422.38 L159.1,422.91 L159.6,422.32 L160.1,421.31 L160.6,421.68 L161.1,423.08 L161.6,421.86 L162.1,422.8 L162.6,423.27 L163.1,422.36 L163.6,422.43 L164.1,422.21 L164.6,421.45 L165.1,422.83 L165.6,421.7 L166.1,422.71 L166.6,421.2 L167.1,422.5 L167.6,422.25 L168.1,421.77 L168.6,421.31 L169.1,420.53 L169.6,421.99 L170.1,420.95 L170.6,421.62 L171.1,420.3 L171.6,420.14 L172.1,420.25 L172.6,421.81 L173.1,420.27 L173.6,421.99 L174.1,420.7 L174.6,421.17 L175.1,420.61 L175.6,421.23 L176.1,419.95 L176.6,420.66 L177.1,421.91 L177.6,420.05 L178.1,421.15 L178.6,420.31 L179.1,420.18 L179.6,419.44 L180.1,419.34 L180.6,421.47 L181.1,421.07 L181.6,420.87 L182.1,420.7 L182.6,420.83 L183.1,418.67 L183.6,419.42 L184.1,418.91 L184.6,418.8 L185.1,419.38 L185.6,418.66 L186.1,418.89 L186.6,416.61 L187.1,417.68 L187.6,417.58 L188.1,417.64 L188.6,417.28 L189.1,417.85 L189.6,416.75 L190.1,418.5 L190.6,417.51 L191.1,418.19 L191.6,419.04 L192.1,418.58 L192.6,417.59 L193.1,417.33 L193.6,417.47 L194.1,418.07 L194.6,418.83 L195.1,418.47 L195.6,417.14 L196.1,417.02 L196.6,417.92 L197.1,416.56 L197.6,416.81 L198.1,415.83 L198.6,416.35 L199.1,417.5 L199.6,418.28 L200.1,418.58 L200.6,418.47 L201.1,420.33 L201.6,419.89 L202.1,418.96 L202.6,418.71 L203.1,420.61 L203.6,420.16 L204.1,419.37 L204.6,417.88 L205.1,416.41 L205.6,415.11 L206.1,414.8 L206.6,414.1 L207.1,415.24 L207.6,414.63 L208.1,413.84 L208.6,411.82 L209.1,411.51 L209.6,411.11 L210.1,412.08 L210.6,409.55 L211.1,410.35 L211.6,409.3 L212.1,408.1 L212.6,408.11 L213.1,405.39 L213.6,404.9 L214.1,402.86 L214.6,401.53 L215.1,400.18 L215.6,399.68 L216.1,398.05 L216.6,396.79 L217.1,397.96 L217.6,395.24 L218.1,395.66 L218.6,394.19 L219.1,393.27 L219.6,392.1 L220.1,391.83 L220.6,390.68 L221.1,389.33 L221.6,387.86 L222.1,386.96 L222.6,385.8 L223.1,384.31 L223.6,383.39 L224.1,382.18 L224.6,383.88 L225.1,383.24 L225.6,382.65 L226.1,383.48 L226.6,385.95 L227.1,385.44 L227.6,386.93 L228.1,389.04 L228.6,391.09 L229.1,391.6 L229.6,393.64 L230.1,395.69 L230.6,396.75 L231.1,400.76 L231.6,400.63 L232.1,404.87 L232.6,405.01 L233.1,407.15 L233.6,410.94 L234.1,412.97 L234.6,413.56 L235.1,416.21 L235.6,417.73 L236.1,419.85 L236.6,420.03 L237.1,422.95 L237.6,424.63 L238.1,425.09 L238.6,426.62 L239.1,427.52 L239.6,426.88 L240.1,428.52 L240.6,428.9 L241.1,428.65 L241.6,427.76 L242.1,429.19 L242.6,430.05 L243.1,428.71 L243.6,429.62 L244.1,430.29 L244.6,429.63 L245.1,428.33 L245.6,429.82 L246.1,429 L246.6,430.54 L247.1,430.17 L247.6,429.43 L248.1,430.95 L248.6,430.42 L249.1,429.84 L249.6,431.14 L250.1,431.39 L250.6,431.49 L251.1,431.57 L251.6,431.11 L252.1,431.29 L252.6,431.13 L253.1,431 L253.6,432.14 L254.1,430.64 L254.6,429.99 L255.1,431.49 L255.6,430.92 L256.1,430.96 L256.6,430.98 L257.1,430.02 L257.6,429.76 L258.1,429.29 L258.6,430.83 L259.1,430.95 L259.6,430.26 L260.1,428.68 L260.6,430.55 L261.1,430 L261.6,429.05 L262.1,427.65 L262.6,429.51 L263.1,428.83" fill="none" stroke="#000" stroke-width="1.6" stroke-linejoin="round" stroke-linecap="round" />
<line x1="228.4" y1="320.5" x2="228.4" y2="372.6" stroke="#444" stroke-width="1" stroke-dasharray="1.5,1.5"/>
<line x1="225.2" y1="360.3" x2="225.2" y2="411.8" stroke="#444" stroke-width="1" stroke-dasharray="1.5,1.5"/>
<rect x="312.3" y="260.1" width="225.4" height="187.3" fill="none" stroke="#666" stroke-width="1.3"/>
<line x1="537.7" y1="447.4" x2="537.7" y2="452" stroke="#666" stroke-width="1.3"/>
<line x1="492.62" y1="447.4" x2="492.62" y2="452" stroke="#666" stroke-width="1.3"/>
<line x1="447.54" y1="447.4" x2="447.54" y2="452" stroke="#666" stroke-width="1.3"/>
<line x1="402.46" y1="447.4" x2="402.46" y2="452" stroke="#666" stroke-width="1.3"/>
<line x1="357.38" y1="447.4" x2="357.38" y2="452" stroke="#666" stroke-width="1.3"/>
<line x1="312.3" y1="447.4" x2="312.3" y2="452" stroke="#666" stroke-width="1.3"/>
<line x1="515.16" y1="447.4" x2="515.16" y2="449.6" stroke="#666" stroke-width="1.3"/>
<line x1="470.08" y1="447.4" x2="470.08" y2="449.6" stroke="#666" stroke-width="1.3"/>
<line x1="425" y1="447.4" x2="425" y2="449.6" stroke="#666" stroke-width="1.3"/>
<line x1="379.92" y1="447.4" x2="379.92" y2="449.6" stroke="#666" stroke-width="1.3"/>
<line x1="334.84" y1="447.4" x2="334.84" y2="449.6" stroke="#666" stroke-width="1.3"/>
<text x="537.7" y="463.6" font-size="10.3" text-anchor="middle" fill="#222" >526</text>
<text x="492.62" y="463.6" font-size="10.3" text-anchor="middle" fill="#222" >528</text>
<text x="447.54" y="463.6" font-size="10.3" text-anchor="middle" fill="#222" >530</text>
<text x="402.46" y="463.6" font-size="10.3" text-anchor="middle" fill="#222" >532</text>
<text x="357.38" y="463.6" font-size="10.3" text-anchor="middle" fill="#222" >534</text>
<text x="312.3" y="463.6" font-size="10.3" text-anchor="middle" fill="#222" >536</text>
<text x="371.6" y="483.5" font-size="12.5" text-anchor="start" fill="#111" textLength="106.5" lengthAdjust="spacingAndGlyphs" >Binding Energy (eV)</text>
<text x="0" y="0" font-size="11.8" text-anchor="middle" fill="#111" transform="translate(298,353.2) rotate(-90)" textLength="77" lengthAdjust="spacingAndGlyphs">Intensity (a.u.)</text>
<text x="282.1" y="269.1" font-size="15" text-anchor="start" fill="#111" textLength="18.3" lengthAdjust="spacingAndGlyphs" stroke="#111" stroke-width="0.15">(d)</text>
<line x1="316.9" y1="274.1" x2="334.5" y2="274.1" stroke="#111" stroke-width="1.7"/>
<line x1="316.9" y1="287.6" x2="334.5" y2="287.6" stroke="#f00" stroke-width="1.5"/>
<text x="337.7" y="277.8" font-size="10.2" text-anchor="start" fill="#111" textLength="57" lengthAdjust="spacingAndGlyphs" >before UOR</text>
<text x="337.7" y="291.3" font-size="10.2" text-anchor="start" fill="#111" textLength="48.2" lengthAdjust="spacingAndGlyphs" >after UOR</text>
<text x="488.9" y="277.9" font-size="12.2" text-anchor="start" fill="#111" textLength="24.4" lengthAdjust="spacingAndGlyphs" stroke="#111" stroke-width="0.15">O 1s</text>
<path d="M312.3,367.31 L312.8,367.44 L313.3,367.51 L313.8,367.66 L314.3,367.5 L314.8,367.69 L315.3,366.91 L315.8,367.33 L316.3,367.78 L316.8,367.54 L317.3,367.79 L317.8,367.11 L318.3,367.45 L318.8,367.27 L319.3,367.56 L319.8,367.6 L320.3,367.12 L320.8,367.31 L321.3,367.38 L321.8,367.96 L322.3,367.83 L322.8,367.29 L323.3,367.87 L323.8,367.26 L324.3,367.67 L324.8,367.19 L325.3,367.03 L325.8,367.76 L326.3,367.1 L326.8,367.04 L327.3,367.65 L327.8,367.47 L328.3,366.87 L328.8,367.39 L329.3,366.92 L329.8,366.96 L330.3,366.46 L330.8,367.04 L331.3,366.74 L331.8,366.92 L332.3,366.79 L332.8,366.2 L333.3,366.19 L333.8,365.96 L334.3,365.89 L334.8,365.77 L335.3,365.93 L335.8,366.15 L336.3,365.56 L336.8,366.12 L337.3,365.76 L337.8,365.67 L338.3,366.07 L338.8,365.7 L339.3,365.48 L339.8,365.56 L340.3,365.68 L340.8,365.01 L341.3,365.74 L341.8,364.78 L342.3,365.32 L342.8,365.29 L343.3,364.41 L343.8,364.96 L344.3,364.44 L344.8,364.47 L345.3,363.79 L345.8,363.66 L346.3,363.6 L346.8,364.12 L347.3,363.25 L347.8,363.56 L348.3,363.53 L348.8,363.35 L349.3,362.61 L349.8,362.42 L350.3,362.38 L350.8,362.41 L351.3,361.61 L351.8,361.99 L352.3,361.85 L352.8,361.72 L353.3,360.79 L353.8,361.43 L354.3,360.48 L354.8,360.53 L355.3,360.59 L355.8,360.69 L356.3,359.98 L356.8,360.33 L357.3,359.81 L357.8,359.42 L358.3,359.24 L358.8,358.94 L359.3,358.67 L359.8,358.55 L360.3,358.86 L360.8,358.95 L361.3,358.02 L361.8,357.74 L362.3,358.41 L362.8,357.83 L363.3,357.53 L363.8,357.21 L364.3,357.35 L364.8,357.39 L365.3,356.88 L365.8,356.67 L366.3,356.17 L366.8,356.76 L367.3,355.79 L367.8,356.03 L368.3,356.16 L368.8,355.35 L369.3,355.71 L369.8,355.73 L370.3,355.27 L370.8,355.24 L371.3,354.46 L371.8,354.59 L372.3,354.16 L372.8,354.63 L373.3,353.97 L373.8,353.96 L374.3,354.3 L374.8,354.02 L375.3,353.98 L375.8,353.38 L376.3,353.29 L376.8,353.39 L377.3,353.07 L377.8,352.81 L378.3,352.83 L378.8,352.52 L379.3,352.65 L379.8,353.13 L380.3,353.03 L380.8,352.65 L381.3,352.45 L381.8,352.21 L382.3,351.88 L382.8,351.93 L383.3,352.26 L383.8,352.19 L384.3,351.57 L384.8,351.77 L385.3,351.55 L385.8,351.24 L386.3,350.95 L386.8,350.75 L387.3,350.08 L387.8,350.06 L388.3,349.34 L388.8,349.17 L389.3,349.06 L389.8,348.63 L390.3,347.91 L390.8,348.13 L391.3,347.5 L391.8,347.09 L392.3,346.24 L392.8,346.4 L393.3,345.83 L393.8,345.92 L394.3,345.45 L394.8,345.5 L395.3,345.08 L395.8,344.95 L396.3,344.28 L396.8,344.28 L397.3,344.09 L397.8,343.88 L398.3,343.15 L398.8,343.28 L399.3,342.97 L399.8,342.46 L400.3,342.36 L400.8,341.97 L401.3,341.2 L401.8,340.82 L402.3,340.1 L402.8,340.3 L403.3,339.97 L403.8,339.12 L404.3,338.88 L404.8,338.45 L405.3,337.99 L405.8,337 L406.3,337.05 L406.8,336.35 L407.3,335.89 L407.8,335.11 L408.3,334.73 L408.8,334.28 L409.3,333.57 L409.8,333.05 L410.3,331.82 L410.8,331.34 L411.3,330.99 L411.8,330.58 L412.3,329.6 L412.8,329.43 L413.3,328.8 L413.8,327.68 L414.3,327.48 L414.8,326.67 L415.3,325.93 L415.8,325.41 L416.3,324.98 L416.8,324.27 L417.3,323.68 L417.8,322.94 L418.3,322.73 L418.8,322.05 L419.3,321.66 L419.8,321.01 L420.3,320.05 L420.8,319.99 L421.3,318.52 L421.8,318.25 L422.3,317.52 L422.8,317.06 L423.3,316.25 L423.8,316.41 L424.3,315.56 L424.8,314.84 L425.3,314.99 L425.8,314.17 L426.3,314.25 L426.8,313.76 L427.3,313.69 L427.8,313.74 L428.3,313.34 L428.8,312.7 L429.3,312.79 L429.8,312.39 L430.3,311.92 L430.8,311.52 L431.3,311.77 L431.8,311.63 L432.3,311.92 L432.8,311.93 L433.3,311.76 L433.8,311.8 L434.3,312.68 L434.8,312.34 L435.3,312.96 L435.8,313.91 L436.3,314.49 L436.8,314.59 L437.3,315.57 L437.8,316.37 L438.3,316.5 L438.8,317.18 L439.3,317.64 L439.8,318.39 L440.3,319.72 L440.8,319.95 L441.3,321.27 L441.8,322.07 L442.3,322.67 L442.8,323.28 L443.3,324.86 L443.8,325.36 L444.3,326.24 L444.8,327.1 L445.3,328.63 L445.8,329.11 L446.3,329.84 L446.8,330.93 L447.3,331.55 L447.8,332.94 L448.3,333.72 L448.8,334.51 L449.3,335.87 L449.8,336.8 L450.3,336.94 L450.8,338.24 L451.3,338.81 L451.8,340.2 L452.3,340.83 L452.8,341.1 L453.3,341.86 L453.8,342.47 L454.3,343.9 L454.8,343.93 L455.3,344.84 L455.8,345.32 L456.3,346.02 L456.8,346.5 L457.3,347.09 L457.8,346.94 L458.3,347.91 L458.8,347.85 L459.3,348.39 L459.8,348.53 L460.3,348.81 L460.8,349.32 L461.3,349.58 L461.8,349.8 L462.3,350.46 L462.8,350.62 L463.3,350.42 L463.8,350.89 L464.3,351.35 L464.8,352.04 L465.3,352.28 L465.8,352.24 L466.3,352.03 L466.8,352.98 L467.3,352.94 L467.8,353.34 L468.3,353.74 L468.8,353.96 L469.3,354.12 L469.8,354.8 L470.3,354.62 L470.8,354.92 L471.3,355.64 L471.8,355.35 L472.3,355.74 L472.8,356.52 L473.3,356.13 L473.8,357.13 L474.3,357.31 L474.8,357.38 L475.3,357.56 L475.8,358.31 L476.3,358.74 L476.8,358.36 L477.3,358.98 L477.8,359.36 L478.3,359.65 L478.8,359.84 L479.3,360.02 L479.8,360.76 L480.3,361.31 L480.8,360.99 L481.3,361.49 L481.8,362.37 L482.3,362.68 L482.8,362.9 L483.3,362.65 L483.8,363.59 L484.3,364.12 L484.8,364.43 L485.3,364.43 L485.8,364.09 L486.3,365.04 L486.8,364.71 L487.3,365.31 L487.8,365.79 L488.3,365.77 L488.8,365.43 L489.3,365.75 L489.8,366.48 L490.3,365.95 L490.8,366.52 L491.3,366.49 L491.8,366.41 L492.3,366.96 L492.8,366.58 L493.3,366.77 L493.8,367.14 L494.3,366.99 L494.8,367.1 L495.3,367.68 L495.8,367.95 L496.3,368.18 L496.8,367.61 L497.3,367.98 L497.8,367.97 L498.3,368.31 L498.8,368.3 L499.3,368.79 L499.8,368.36 L500.3,368.14 L500.8,368.79 L501.3,368.36 L501.8,368.86 L502.3,368.8 L502.8,369.22 L503.3,368.95 L503.8,369.06 L504.3,368.78 L504.8,369.08 L505.3,368.85 L505.8,369.33 L506.3,369.15 L506.8,368.84 L507.3,368.95 L507.8,369.1 L508.3,369.45 L508.8,368.97 L509.3,369.47 L509.8,369.44 L510.3,368.94 L510.8,369.48 L511.3,368.97 L511.8,369.01 L512.3,369.44 L512.8,369.13 L513.3,369.71 L513.8,369.36 L514.3,369.23 L514.8,369.66 L515.3,368.97 L515.8,369.6 L516.3,369 L516.8,369.08 L517.3,369.81 L517.8,369.56 L518.3,369.15 L518.8,369.05 L519.3,369.83 L519.8,369.55 L520.3,369.69 L520.8,369.08 L521.3,369.51 L521.8,369.27 L522.3,369.16 L522.8,369.25 L523.3,369.5 L523.8,369.26 L524.3,369.3 L524.8,369.07 L525.3,369.7 L525.8,369.53 L526.3,369.67 L526.8,369.34 L527.3,369.72 L527.8,369.42 L528.3,369.48 L528.8,369.47 L529.3,369.62 L529.8,369.31 L530.3,369.04 L530.8,368.98 L531.3,369.13 L531.8,368.99 L532.3,369.75 L532.8,369.38 L533.3,369.63 L533.8,368.95 L534.3,369.37 L534.8,369.75 L535.3,369.51 L535.8,369.34 L536.3,369.37 L536.8,369.04 L537.3,369.09" fill="none" stroke="#f00" stroke-width="1.6" stroke-linejoin="round" stroke-linecap="round" />
<path d="M312.3,427.06 L312.8,427.09 L313.3,426.79 L313.8,426.59 L314.3,426.35 L314.8,426.95 L315.3,426.77 L315.8,427.03 L316.3,426.69 L316.8,427.04 L317.3,426.6 L317.8,427.07 L318.3,427.01 L318.8,426.72 L319.3,426.83 L319.8,426.96 L320.3,426.52 L320.8,426.85 L321.3,427.07 L321.8,426.59 L322.3,427.07 L322.8,426.97 L323.3,427.11 L323.8,426.65 L324.3,426.43 L324.8,427.07 L325.3,427.07 L325.8,426.75 L326.3,426.43 L326.8,426.53 L327.3,426.92 L327.8,426.61 L328.3,427.21 L328.8,426.88 L329.3,426.53 L329.8,426.94 L330.3,426.67 L330.8,427.19 L331.3,427.17 L331.8,426.81 L332.3,426.93 L332.8,426.97 L333.3,427.06 L333.8,427.2 L334.3,426.33 L334.8,426.61 L335.3,426.8 L335.8,426.5 L336.3,426.72 L336.8,426.23 L337.3,426.9 L337.8,426.53 L338.3,426.1 L338.8,426.52 L339.3,426.14 L339.8,425.95 L340.3,426.12 L340.8,425.72 L341.3,425.68 L341.8,426.16 L342.3,425.9 L342.8,425.16 L343.3,425.73 L343.8,424.91 L344.3,425.06 L344.8,425.44 L345.3,425.04 L345.8,424.61 L346.3,424.52 L346.8,424.38 L347.3,423.98 L347.8,424.61 L348.3,423.6 L348.8,423.77 L349.3,423.89 L349.8,423.41 L350.3,423.76 L350.8,422.93 L351.3,423.42 L351.8,423.17 L352.3,422.8 L352.8,422.82 L353.3,422.26 L353.8,422.43 L354.3,422.23 L354.8,421.8 L355.3,421.58 L355.8,421.61 L356.3,421.16 L356.8,420.69 L357.3,421.1 L357.8,420.47 L358.3,420.48 L358.8,420.56 L359.3,419.81 L359.8,419.48 L360.3,419.38 L360.8,419.6 L361.3,419.19 L361.8,418.9 L362.3,418.87 L362.8,419.09 L363.3,418.28 L363.8,418.21 L364.3,418.43 L364.8,417.97 L365.3,417.45 L365.8,417.41 L366.3,417.19 L366.8,416.65 L367.3,416.63 L367.8,416.33 L368.3,416.54 L368.8,415.86 L369.3,415.92 L369.8,415.96 L370.3,415.68 L370.8,414.94 L371.3,414.91 L371.8,414.42 L372.3,414.26 L372.8,414.11 L373.3,414.17 L373.8,414.08 L374.3,413.29 L374.8,412.83 L375.3,413.03 L375.8,412.49 L376.3,412.3 L376.8,412.83 L377.3,412.1 L377.8,412.53 L378.3,412.1 L378.8,412.51 L379.3,412.34 L379.8,411.52 L380.3,411.53 L380.8,412.09 L381.3,411.66 L381.8,411.34 L382.3,411.5 L382.8,411.35 L383.3,410.85 L383.8,410.59 L384.3,409.98 L384.8,409.92 L385.3,409.41 L385.8,409.51 L386.3,409.14 L386.8,408.36 L387.3,408.41 L387.8,407.53 L388.3,407.13 L388.8,407.19 L389.3,406.59 L389.8,406.53 L390.3,405.83 L390.8,405.43 L391.3,404.43 L391.8,404.58 L392.3,403.42 L392.8,403.41 L393.3,403.16 L393.8,402.63 L394.3,402.07 L394.8,401.1 L395.3,400.74 L395.8,400.23 L396.3,399.04 L396.8,399.16 L397.3,398.52 L397.8,397.49 L398.3,397.18 L398.8,396.28 L399.3,395.53 L399.8,395.34 L400.3,394.17 L400.8,394.25 L401.3,393.83 L401.8,392.62 L402.3,392.63 L402.8,391.27 L403.3,391.39 L403.8,390.28 L404.3,390.31 L404.8,389.25 L405.3,389.1 L405.8,387.71 L406.3,387.17 L406.8,387.22 L407.3,386.45 L407.8,385.74 L408.3,384.66 L408.8,384.17 L409.3,383.74 L409.8,382.86 L410.3,383.13 L410.8,382.37 L411.3,382.01 L411.8,381.28 L412.3,380.48 L412.8,379.78 L413.3,379.93 L413.8,378.94 L414.3,378.92 L414.8,378.45 L415.3,378.1 L415.8,377.36 L416.3,377.01 L416.8,377.08 L417.3,376.31 L417.8,376.43 L418.3,375.76 L418.8,375.57 L419.3,375.17 L419.8,375.31 L420.3,374.96 L420.8,374.69 L421.3,374.65 L421.8,374.96 L422.3,375.27 L422.8,374.83 L423.3,374.61 L423.8,374.77 L424.3,374.72 L424.8,375.05 L425.3,375.29 L425.8,375.16 L426.3,374.92 L426.8,375.18 L427.3,375.4 L427.8,375.66 L428.3,375.87 L428.8,376.69 L429.3,376.61 L429.8,377.08 L430.3,377.52 L430.8,377.89 L431.3,378.5 L431.8,378.62 L432.3,379.45 L432.8,380.33 L433.3,380.26 L433.8,381.39 L434.3,381.97 L434.8,382.53 L435.3,383.4 L435.8,384.98 L436.3,385.35 L436.8,386.85 L437.3,387.26 L437.8,388.46 L438.3,389.14 L438.8,390.61 L439.3,391.85 L439.8,392.38 L440.3,393.71 L440.8,395.04 L441.3,395.45 L441.8,396.56 L442.3,397.72 L442.8,398.77 L443.3,399.06 L443.8,400.4 L444.3,400.79 L444.8,401.62 L445.3,403.22 L445.8,403.15 L446.3,404.66 L446.8,405.21 L447.3,405.83 L447.8,406.54 L448.3,407.1 L448.8,407.37 L449.3,408.09 L449.8,408.43 L450.3,409.54 L450.8,409.97 L451.3,410.44 L451.8,410.35 L452.3,411.07 L452.8,411.11 L453.3,411.9 L453.8,412.15 L454.3,412.64 L454.8,412.64 L455.3,412.87 L455.8,413.18 L456.3,412.79 L456.8,413.43 L457.3,413.11 L457.8,413.58 L458.3,413.52 L458.8,414.42 L459.3,413.74 L459.8,414.69 L460.3,414.86 L460.8,414.55 L461.3,415.06 L461.8,414.52 L462.3,414.77 L462.8,414.83 L463.3,415.07 L463.8,415.2 L464.3,416.12 L464.8,415.64 L465.3,416.28 L465.8,416.18 L466.3,416.24 L466.8,416.69 L467.3,416.66 L467.8,417.57 L468.3,417.23 L468.8,417.62 L469.3,417.79 L469.8,418.05 L470.3,418.13 L470.8,418.15 L471.3,418.25 L471.8,419.15 L472.3,418.75 L472.8,419.21 L473.3,419.77 L473.8,419.81 L474.3,420.41 L474.8,420.56 L475.3,420.57 L475.8,420.5 L476.3,421.21 L476.8,421.4 L477.3,422.04 L477.8,422.04 L478.3,422.48 L478.8,422.87 L479.3,422.85 L479.8,423.47 L480.3,423.79 L480.8,423.39 L481.3,424.33 L481.8,424.53 L482.3,424.77 L482.8,424.55 L483.3,424.72 L483.8,424.85 L484.3,425.3 L484.8,425.96 L485.3,425.74 L485.8,425.62 L486.3,426.08 L486.8,426.06 L487.3,426.7 L487.8,426.97 L488.3,427.23 L488.8,426.59 L489.3,426.95 L489.8,426.8 L490.3,427.58 L490.8,427.58 L491.3,427.36 L491.8,427.8 L492.3,427.45 L492.8,427.72 L493.3,427.49 L493.8,427.4 L494.3,427.99 L494.8,427.88 L495.3,427.67 L495.8,427.94 L496.3,427.76 L496.8,427.91 L497.3,427.27 L497.8,427.35 L498.3,427.35 L498.8,427.82 L499.3,427.95 L499.8,427.46 L500.3,427.8 L500.8,427.46 L501.3,428 L501.8,428.1 L502.3,427.49 L502.8,428.31 L503.3,428.03 L503.8,427.56 L504.3,427.77 L504.8,427.61 L505.3,428.13 L505.8,428.31 L506.3,427.65 L506.8,427.66 L507.3,428.07 L507.8,428.28 L508.3,428.18 L508.8,427.93 L509.3,427.62 L509.8,428.08 L510.3,427.94 L510.8,428.26 L511.3,428.05 L511.8,428.2 L512.3,428.42 L512.8,428.12 L513.3,428.38 L513.8,427.81 L514.3,427.57 L514.8,428.37 L515.3,427.61 L515.8,428.48 L516.3,428 L516.8,427.66 L517.3,427.86 L517.8,428.27 L518.3,427.98 L518.8,428.2 L519.3,427.75 L519.8,428.42 L520.3,428.02 L520.8,428.45 L521.3,427.84 L521.8,428.33 L522.3,428.17 L522.8,428.12 L523.3,427.79 L523.8,428.27 L524.3,428.57 L524.8,427.92 L525.3,428.25 L525.8,427.88 L526.3,428.78 L526.8,428.78 L527.3,428.54 L527.8,428.38 L528.3,428.03 L528.8,428.1 L529.3,428.64 L529.8,428.74 L530.3,428.94 L530.8,428.85 L531.3,428.49 L531.8,428.34 L532.3,428.62 L532.8,428.47 L533.3,428.67 L533.8,428.99 L534.3,428.62 L534.8,429.12 L535.3,428.9 L535.8,428.32 L536.3,428.97 L536.8,428.91 L537.3,428.89" fill="none" stroke="#000" stroke-width="1.6" stroke-linejoin="round" stroke-linecap="round" />
<line x1="432.4" y1="306" x2="432.4" y2="358.5" stroke="#444" stroke-width="1" stroke-dasharray="1.5,1.5"/>
<line x1="424.4" y1="345.2" x2="424.4" y2="394.4" stroke="#444" stroke-width="1" stroke-dasharray="1.5,1.5"/>
</svg>
</body></html>
